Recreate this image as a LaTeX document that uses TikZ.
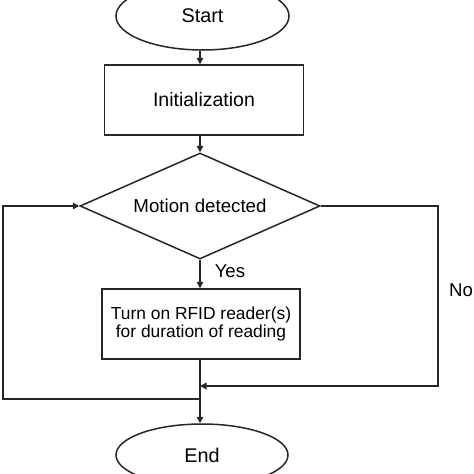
\documentclass[tikz,border=0pt]{standalone}
\usepackage{fontspec}
\setmainfont{Liberation Sans}
\usetikzlibrary{shapes.geometric,arrows.meta}
\begin{document}
\begin{tikzpicture}[x=1pt,y=-1pt,
  every node/.style={inner sep=0pt},
  lw/.style={line width=1.5pt,draw=black!85},
  term/.style={lw,ellipse,minimum width=173pt,minimum height=68pt,font=\fontsize{19.8}{21}\selectfont},
  procbox/.style={lw,rectangle,font=\fontsize{19.5}{21}\selectfont},
  decide/.style={lw,diamond,aspect=2.25,minimum width=240pt,minimum height=106pt,font=\fontsize{18.7}{20}\selectfont},
  lbl/.style={font=\fontsize{18.6}{20}\selectfont},
  conn/.style={lw,-{Triangle[length=6.5pt,width=6.5pt]}},
  plain/.style={lw}]
\useasboundingbox (0,0) rectangle (474,474);
\clip (0,0) rectangle (474,474);
\node[term] (start) at (202.5,16) {Start};
\node[procbox,minimum width=199pt,minimum height=70pt] (init) at (204,100) {Initialization};
\node[decide] (dec) at (200,206) {Motion detected};
\node[procbox,minimum width=198pt,minimum height=70pt,align=center,font=\fontsize{17.4}{17.5}\selectfont] (act) at (201,324) {Turn on RFID reader(s)\\for duration of reading};
\node[term,minimum width=172pt,minimum height=62pt] (end) at (202,455) {End};
\coordinate (jr) at (200,386);
\coordinate (jl) at (200,399);
\coordinate (cl) at (3,399);
\coordinate (cr) at (438,386);
\draw[conn] (start.south -| dec.north) -- (init.north -| dec.north);
\draw[conn] (init.south -| dec.north) -- (dec.north);
\draw[conn] (dec.south) -- (act.north -| dec.south) node[lbl,pos=0.4,right=14pt] (yes) {Yes};
\draw[conn] (act.south -| dec.south) -- (end.north -| dec.south);
\draw[conn] (dec.east) -| (cr) -- (jr);
\draw[conn] (jl) -- (cl) |- (dec.west);
\node[lbl] (no) at (461,290) {No};
\end{tikzpicture}
\end{document}
